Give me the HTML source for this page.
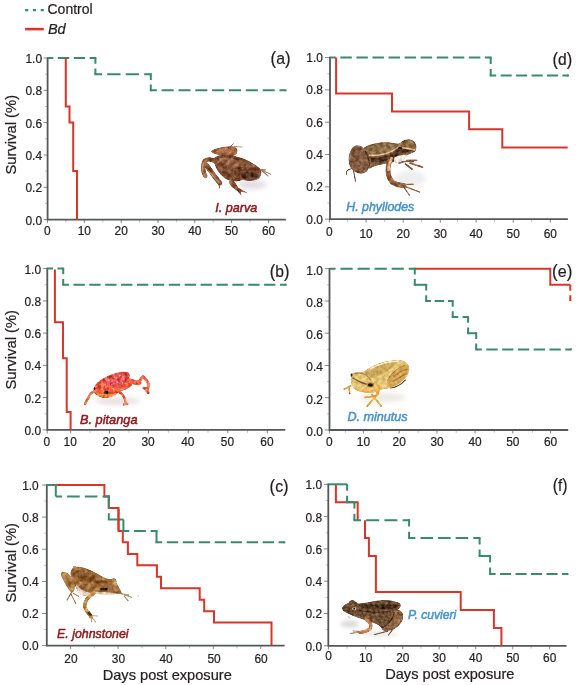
<!DOCTYPE html>
<html lang="en"><head><meta charset="utf-8"><title>Survival curves</title>
<style>html,body{margin:0;padding:0;background:#fff}svg{display:block}text{font-family:"Liberation Sans",Arial,Helvetica,sans-serif}</style>
</head><body>
<svg width="578" height="685" viewBox="0 0 578 685">
<rect width="578" height="685" fill="#fff"/>
<defs><filter id="b1" x="-20%" y="-20%" width="140%" height="140%"><feGaussianBlur stdDeviation="0.7"/></filter><filter id="b2" x="-30%" y="-30%" width="160%" height="160%"><feGaussianBlur stdDeviation="2.2"/></filter></defs>
<defs>
<filter id="fs" x="-40%" y="-40%" width="180%" height="180%"><feGaussianBlur stdDeviation="18"/></filter>
<filter id="tx" x="-10%" y="-10%" width="120%" height="120%" color-interpolation-filters="sRGB">
<feTurbulence type="fractalNoise" baseFrequency="0.028" numOctaves="3" seed="11" result="n"/>
<feColorMatrix in="n" type="matrix" values="1.5 0 0 0 -0.25  1.5 0 0 0 -0.25  1.5 0 0 0 -0.25  0 0 0 0 1" result="g"/>
<feComposite in="SourceGraphic" in2="g" operator="arithmetic" k1="0" k2="1" k3="0.38" k4="-0.19" result="mod"/>
<feComposite in="mod" in2="SourceGraphic" operator="in" result="clip"/>
<feGaussianBlur in="clip" stdDeviation="3.2"/>
</filter>
<filter id="tx2" x="-10%" y="-10%" width="120%" height="120%" color-interpolation-filters="sRGB">
<feTurbulence type="fractalNoise" baseFrequency="0.035" numOctaves="3" seed="5" result="n"/>
<feColorMatrix in="n" type="matrix" values="1.5 0 0 0 -0.25  1.5 0 0 0 -0.25  1.5 0 0 0 -0.25  0 0 0 0 1" result="g"/>
<feComposite in="SourceGraphic" in2="g" operator="arithmetic" k1="0" k2="1" k3="0.45" k4="-0.17" result="mod"/>
<feComposite in="mod" in2="SourceGraphic" operator="in" result="clip"/>
<feGaussianBlur in="clip" stdDeviation="3.2"/>
</filter>
<filter id="tx3" x="-10%" y="-10%" width="120%" height="120%" color-interpolation-filters="sRGB">
<feTurbulence type="fractalNoise" baseFrequency="0.04" numOctaves="2" seed="9" result="n"/>
<feColorMatrix in="n" type="matrix" values="1.5 0 0 0 -0.25  1.5 0 0 0 -0.25  1.5 0 0 0 -0.25  0 0 0 0 1" result="g"/>
<feComposite in="SourceGraphic" in2="g" operator="arithmetic" k1="0" k2="1" k3="0.2" k4="-0.085" result="mod"/>
<feComposite in="mod" in2="SourceGraphic" operator="in" result="clip"/>
<feGaussianBlur in="clip" stdDeviation="3.2"/>
</filter>
<filter id="tx4" x="-10%" y="-10%" width="120%" height="120%" color-interpolation-filters="sRGB">
<feTurbulence type="fractalNoise" baseFrequency="0.04" numOctaves="3" seed="21" result="n"/>
<feColorMatrix in="n" type="matrix" values="1.5 0 0 0 -0.25  1.5 0 0 0 -0.25  1.5 0 0 0 -0.25  0 0 0 0 1" result="g"/>
<feComposite in="SourceGraphic" in2="g" operator="arithmetic" k1="0" k2="1" k3="0.32" k4="-0.15" result="mod"/>
<feComposite in="mod" in2="SourceGraphic" operator="in" result="clip"/>
<feGaussianBlur in="clip" stdDeviation="3"/>
</filter>
</defs>
<!-- frog a : I. parva  (zoom origin 198,138 scale 7.41) -->
<g transform="translate(198,138) scale(0.13495)">
<ellipse cx="400" cy="345" rx="110" ry="32" fill="#e2dae2" filter="url(#fs)"/>
<g filter="url(#tx)">
<path d="M240,62 L262,42 M268,64 L328,67" stroke="#9a6848" stroke-width="7" fill="none" stroke-linecap="round"/>
<path d="M440,228 C470,236 505,250 538,268 M470,240 L520,282 M455,232 L500,236" stroke="#b88a6a" stroke-width="9" fill="none" stroke-linecap="round"/>
<path d="M95,100 C110,80 180,65 240,62 C272,60 296,75 292,100 C290,130 260,140 200,132 C160,128 110,122 95,100Z" fill="#a86c46"/>
<path d="M115,150 C150,118 230,118 300,140 C350,152 410,185 446,214 C476,236 478,270 452,300 C420,322 380,322 330,312 C290,330 240,322 200,300 C160,270 120,220 115,150Z" fill="#7c4c32"/>
<path d="M150,150 C220,135 320,160 420,215 C380,225 300,210 240,215 C190,205 150,180 150,150Z" fill="#8f5e40"/>
<path d="M330,248 C380,244 430,260 462,280 C440,312 380,318 340,304 C320,290 316,262 330,248Z" fill="#4f2e1e"/>
<path d="M140,182 C105,156 70,152 50,170 C32,200 34,250 54,280" stroke="#96603f" stroke-width="34" fill="none" stroke-linecap="round"/>
<path d="M62,200 C95,245 130,296 162,334" stroke="#8a5436" stroke-width="36" fill="none" stroke-linecap="round"/>
<path d="M44,180 C30,210 32,250 48,276 M70,232 C95,262 125,300 150,326" stroke="#c08e6c" stroke-width="8" fill="none" stroke-linecap="round"/>
<path d="M155,342 L160,372" stroke="#6b3f2a" stroke-width="7" fill="none" stroke-linecap="round"/>
<path d="M228,318 C250,306 272,318 282,340 L300,368 L372,410 L318,398 L322,428 L290,392 C262,372 226,346 228,318Z" fill="#8c5436"/>
</g></g>
<!-- frog d : H. phyllodes (zoom origin 340,132 scale 6.422) -->
<g transform="translate(340,132) scale(0.15571)">
<ellipse cx="450" cy="300" rx="100" ry="55" fill="#eeeeee" filter="url(#fs)"/>
<g filter="url(#tx4)">
<path d="M72,236 C50,240 36,252 42,272 M86,246 L100,316" stroke="#6a4630" stroke-width="8" fill="none" stroke-linecap="round"/>
<path d="M380,200 C410,186 440,184 470,190 M430,182 L492,182 M450,200 L530,226 M420,206 L462,238" stroke="#8a5a3a" stroke-width="12" fill="none" stroke-linecap="round"/>
<path d="M140,110 C185,74 250,62 310,66 C340,68 365,80 385,70 C405,52 440,38 468,54 C494,72 498,104 482,126 C465,140 430,146 405,162 C380,186 330,200 290,206 C250,212 215,220 190,236 C165,220 140,170 140,110Z" fill="#7a5636"/>
<path d="M160,112 C200,78 260,70 310,72 C340,74 362,86 386,76 C410,58 440,48 464,60 C480,74 486,92 480,108 C450,104 410,92 372,96 C330,128 260,152 190,146 C175,140 164,128 160,112Z" fill="#8c6c44"/>
<path d="M350,160 C380,150 410,146 430,146 C420,176 390,192 345,200Z" fill="#f3ece4"/>
<path d="M72,112 C92,74 140,78 162,120 C188,160 202,222 172,254 C140,280 95,268 68,230 C48,190 52,142 72,112Z" fill="#80593f"/>
<path d="M162,120 C178,150 190,185 188,218" stroke="#4a3222" stroke-width="7" fill="none"/>
<path d="M195,166 C260,172 330,150 372,118 C410,108 450,112 478,108 C450,130 410,134 384,142 C340,176 260,200 204,194Z" fill="#452a1a"/>
<path d="M185,150 C260,158 330,132 370,100 C410,96 450,110 484,116" stroke="#e0bc94" stroke-width="10" fill="none"/>
<ellipse cx="386" cy="105" rx="15" ry="8" fill="#20130c"/>
<path d="M318,186 C304,232 298,282 338,324 C360,338 390,344 410,344" stroke="#8e5c3c" stroke-width="32" fill="none" stroke-linecap="round"/>
<path d="M332,168 C320,190 314,215 312,242" stroke="#dcb48c" stroke-width="17" fill="none" stroke-linecap="round"/>
<path d="M400,338 L470,336 M418,350 L512,386 M410,354 L446,406" stroke="#9a6a48" stroke-width="9" fill="none" stroke-linecap="round"/>
</g></g>
<!-- frog b : B. pitanga (zoom origin 78,364 scale 7.41) -->
<g transform="translate(78,364) scale(0.13495)">
<ellipse cx="290" cy="275" rx="170" ry="28" fill="#e9dfdf" filter="url(#fs)"/>
<g filter="url(#tx2)">
<path d="M370,120 C410,134 436,142 452,138" stroke="#dc4a34" stroke-width="36" fill="none" stroke-linecap="round"/>
<path d="M452,136 C462,118 470,100 482,92 C500,110 520,136 526,152 C522,170 514,186 508,200 M508,186 L488,178 M512,192 L520,214" stroke="#e65a3a" stroke-width="21" fill="none" stroke-linecap="round" stroke-linejoin="round"/>
<path d="M116,186 C120,150 160,120 200,100 C250,70 320,50 365,60 C386,70 388,90 378,106 C402,116 412,140 398,160 C372,188 332,198 302,208 C272,240 222,258 180,248 C138,236 110,216 116,186Z" fill="#df4c30"/>
<path d="M175,128 C230,84 310,58 362,66 C384,92 372,134 340,154 C296,178 226,178 175,128Z" fill="#d24456" opacity="0.62"/>
<g fill="#f6b8a8" opacity="0.75"><circle cx="230" cy="120" r="7"/><circle cx="270" cy="100" r="6"/><circle cx="310" cy="86" r="7"/><circle cx="340" cy="110" r="6"/><circle cx="290" cy="135" r="7"/><circle cx="250" cy="150" r="6"/><circle cx="200" cy="150" r="6"/><circle cx="330" cy="140" r="6"/><circle cx="180" cy="185" r="6"/><circle cx="260" cy="185" r="6"/></g>
<path d="M128,210 C180,228 240,234 294,212 C268,250 200,258 156,242Z" fill="#f68632"/>
<path d="M134,198 C108,204 90,218 80,244 L52,296" stroke="#f06c3a" stroke-width="18" fill="none" stroke-linecap="round"/>
<path d="M308,210 C336,226 350,252 354,292 M340,300 L366,296" stroke="#ea5c34" stroke-width="17" fill="none" stroke-linecap="round"/>
<ellipse cx="208" cy="212" rx="19" ry="12" fill="#120c0c"/>
<ellipse cx="122" cy="181" rx="6" ry="11" fill="#120c0c"/>
</g></g>
<!-- frog e : D. minutus (zoom origin 338,354 scale 7.41) -->
<g transform="translate(338,354) scale(0.13495)">
<ellipse cx="330" cy="322" rx="170" ry="30" fill="#ebe7df" filter="url(#fs)"/>
<g filter="url(#tx3)">
<path d="M96,236 L46,260 M82,250 L86,294" stroke="#e7a440" stroke-width="13" fill="none" stroke-linecap="round"/>
<path d="M252,300 L320,386 M292,300 L216,386 M200,322 L270,310" stroke="#e8aa3e" stroke-width="14" fill="none" stroke-linecap="round"/>
<path d="M386,252 C424,250 466,230 502,190" stroke="#5e4022" stroke-width="10" fill="none"/>
<path d="M95,160 C100,138 130,128 180,136 C200,126 214,110 240,100 C270,84 280,78 300,70 C360,48 440,40 470,46 C506,56 530,80 530,112 C526,160 490,200 460,216 C420,244 370,258 340,260 C300,272 270,288 250,290 C200,292 150,280 120,260 C98,240 92,200 95,160Z" fill="#e0c072"/>
<path d="M200,140 C250,100 340,66 440,56 C420,100 340,150 262,180 C226,174 208,160 200,140Z" fill="#c6a456"/>
<path d="M236,112 C290,78 370,54 452,52" stroke="#f4e4b4" stroke-width="12" fill="none"/>
<path d="M370,190 C400,130 470,82 520,86 C536,120 506,180 440,230 C410,246 380,246 366,236 C360,222 362,206 370,190Z" fill="#d2a656"/>
<path d="M366,200 C392,140 450,96 500,84" stroke="#a87c38" stroke-width="7" fill="none"/>
<path d="M410,172 C440,142 480,120 514,114 M400,207 C440,187 480,157 512,142" stroke="#a87a36" stroke-width="10" fill="none"/>
<path d="M108,176 C150,204 190,220 222,228" stroke="#7c5c2a" stroke-width="10" fill="none"/>
<path d="M112,150 C140,138 170,140 200,152 C216,160 232,176 244,196" stroke="#a88644" stroke-width="8" fill="none"/>
<path d="M120,258 C180,282 250,276 300,250 C290,290 180,302 120,258Z" fill="#eeaa40"/>
<path d="M300,240 C300,262 296,284 290,300" stroke="#eca63c" stroke-width="22" fill="none" stroke-linecap="round"/>
<ellipse cx="240" cy="228" rx="28" ry="19" fill="#a88040"/>
<ellipse cx="240" cy="229" rx="18" ry="12" fill="#1c1612"/>
<ellipse cx="100" cy="156" rx="8" ry="13" fill="#1c1612"/>
<circle cx="86" cy="291" r="6" fill="#d0503a"/>
</g></g>
<!-- frog c : E. johnstonei (zoom origin 56,560 scale 6.881) -->
<g transform="translate(56,560) scale(0.14533)">
<g filter="url(#tx)">
<path d="M106,224 L76,276 M102,230 L136,300 M120,230 L156,250" stroke="#a87848" stroke-width="8" fill="none" stroke-linecap="round"/>
<path d="M440,230 L520,256 M470,250 L496,280 M452,232 L500,240" stroke="#c8a478" stroke-width="8" fill="none" stroke-linecap="round"/>
<path d="M40,85 C70,72 100,100 125,150 C136,200 124,224 108,226 C80,200 55,150 36,110 C32,96 34,90 40,85Z" fill="#b08048"/>
<path d="M115,55 C140,38 190,48 250,75 C300,100 340,130 380,132 C400,118 420,130 416,156 C430,180 444,206 452,226 C420,240 370,236 340,230 C300,216 280,226 260,236 C230,254 190,246 165,232 C140,200 120,160 100,100 C98,80 104,64 115,55Z" fill="#9a6a3a"/>
<path d="M140,70 C200,70 270,100 340,150 C300,160 230,150 190,160 C160,150 140,110 140,70Z" fill="#865628"/>
<path d="M138,165 C168,212 230,234 272,224 C250,256 190,252 160,234 C145,215 138,190 138,165Z" fill="#e6cfc0"/>
<path d="M262,222 C310,212 370,232 440,226 C400,240 330,238 272,234Z" fill="#ead8b4"/>
<circle cx="400" cy="150" r="17" fill="#ae8046"/>
<path d="M262,228 C226,248 194,282 198,322 C206,350 226,370 240,390" stroke="#c08a48" stroke-width="24" fill="none" stroke-linecap="round"/>
<path d="M224,356 L242,384" stroke="#52341a" stroke-width="18" fill="none"/>
<path d="M240,388 L246,424 M246,392 L272,426 M250,384 L286,386" stroke="#b88a58" stroke-width="7" fill="none" stroke-linecap="round"/>
<ellipse cx="330" cy="201" rx="26" ry="10" fill="#36261a"/>
<circle cx="565" cy="247" r="5" fill="#c6a686"/>
<circle cx="128" cy="50" r="12" fill="#a87a46"/>
</g></g>
<!-- frog f : P. cuvieri (zoom origin 338,594 scale 8.028) -->
<g transform="translate(338,594) scale(0.12457)">
<ellipse cx="95" cy="240" rx="75" ry="30" fill="#dadada" filter="url(#fs)"/>
<ellipse cx="330" cy="322" rx="150" ry="16" fill="#e6e2de" filter="url(#fs)"/>
<g filter="url(#tx4)">
<path d="M30,115 C40,90 70,74 86,70 C92,48 120,40 136,56 C150,66 160,76 170,76 C230,70 290,54 340,50 C400,44 470,56 500,76 C510,96 500,116 480,126 C520,134 530,170 520,200 C506,240 470,276 430,290 C400,296 372,290 352,272 C336,256 310,240 280,230 C240,216 180,200 120,176 C80,160 40,144 30,115Z" fill="#6e4e32"/>
<path d="M150,78 C240,96 350,70 494,92 C470,122 380,126 300,122 C230,122 176,104 150,78Z" fill="#432c1c"/>
<path d="M170,130 C240,150 330,150 420,140" stroke="#3e2818" stroke-width="10" fill="none"/>
<path d="M470,132 C512,130 530,170 518,208 C500,250 450,284 396,298 C370,300 350,290 348,270 C400,250 440,200 450,160Z" fill="#8a6442"/>
<path d="M452,150 C444,200 404,250 350,272" stroke="#3c2616" stroke-width="9" fill="none"/>
<path d="M400,298 L290,326 M440,284 L404,330" stroke="#7a5234" stroke-width="9" fill="none" stroke-linecap="round"/>
<path d="M76,180 L100,202 L90,178Z" fill="#f2eee8"/>
<path d="M228,208 C268,226 272,262 252,284 C230,300 200,306 176,308" stroke="#c47c4c" stroke-width="28" fill="none" stroke-linecap="round"/>
<path d="M180,306 L100,316 M170,300 L120,296" stroke="#ca8c5e" stroke-width="9" fill="none" stroke-linecap="round"/>
<path d="M40,128 C70,140 100,140 128,136" stroke="#3c2616" stroke-width="7" fill="none"/>
<ellipse cx="130" cy="118" rx="17" ry="11" fill="#e0d0b6"/>
<ellipse cx="131" cy="119" rx="9" ry="7" fill="#1c120a"/>
</g></g>

<path d="M25.1,10.1 H43.8" stroke="#3b8b6b" stroke-width="2.2" stroke-dasharray="3.1 4.7"/>
<path d="M25.1,29.1 H43.8" stroke="#d8352b" stroke-width="2.6"/>
<text x="47.5" y="14.3" font-size="14.4" fill="#231f20" textLength="45.1" lengthAdjust="spacingAndGlyphs" stroke="#231f20" stroke-width="0.22">Control</text>
<text x="47.9" y="33.5" font-size="14.4" fill="#231f20" textLength="17.8" lengthAdjust="spacingAndGlyphs" font-style="italic" stroke="#231f20" stroke-width="0.22">Bd</text>
<path d="M47.6,57.2 V219.6 H285.9" fill="none" stroke="#55575a" stroke-width="1.8"/>
<path d="M43.6,219.6 H47.6" stroke="#55575a" stroke-width="1" opacity="0.7"/>
<text x="42.0" y="224.5" font-size="11.9" fill="#231f20" text-anchor="end" stroke="#231f20" stroke-width="0.22">0.0</text>
<path d="M45.0,203.4 H47.6" stroke="#55575a" stroke-width="0.9" opacity="0.4"/>
<path d="M43.6,187.3 H47.6" stroke="#55575a" stroke-width="1" opacity="0.7"/>
<text x="42.0" y="192.2" font-size="11.9" fill="#231f20" text-anchor="end" stroke="#231f20" stroke-width="0.22">0.2</text>
<path d="M45.0,171.1 H47.6" stroke="#55575a" stroke-width="0.9" opacity="0.4"/>
<path d="M43.6,155.0 H47.6" stroke="#55575a" stroke-width="1" opacity="0.7"/>
<text x="42.0" y="159.9" font-size="11.9" fill="#231f20" text-anchor="end" stroke="#231f20" stroke-width="0.22">0.4</text>
<path d="M45.0,138.8 H47.6" stroke="#55575a" stroke-width="0.9" opacity="0.4"/>
<path d="M43.6,122.6 H47.6" stroke="#55575a" stroke-width="1" opacity="0.7"/>
<text x="42.0" y="127.6" font-size="11.9" fill="#231f20" text-anchor="end" stroke="#231f20" stroke-width="0.22">0.6</text>
<path d="M45.0,106.5 H47.6" stroke="#55575a" stroke-width="0.9" opacity="0.4"/>
<path d="M43.6,90.3 H47.6" stroke="#55575a" stroke-width="1" opacity="0.7"/>
<text x="42.0" y="95.3" font-size="11.9" fill="#231f20" text-anchor="end" stroke="#231f20" stroke-width="0.22">0.8</text>
<path d="M45.0,74.2 H47.6" stroke="#55575a" stroke-width="0.9" opacity="0.4"/>
<path d="M43.6,58.0 H47.6" stroke="#55575a" stroke-width="1" opacity="0.7"/>
<text x="42.0" y="63.0" font-size="11.9" fill="#231f20" text-anchor="end" stroke="#231f20" stroke-width="0.22">1.0</text>
<path d="M47.4,219.6 V223.2" stroke="#55575a" stroke-width="1" opacity="0.7"/>
<path d="M84.3,219.6 V223.2" stroke="#55575a" stroke-width="1" opacity="0.7"/>
<path d="M121.2,219.6 V223.2" stroke="#55575a" stroke-width="1" opacity="0.7"/>
<path d="M158.0,219.6 V223.2" stroke="#55575a" stroke-width="1" opacity="0.7"/>
<path d="M194.8,219.6 V223.2" stroke="#55575a" stroke-width="1" opacity="0.7"/>
<path d="M231.6,219.6 V223.2" stroke="#55575a" stroke-width="1" opacity="0.7"/>
<path d="M268.6,219.6 V223.2" stroke="#55575a" stroke-width="1" opacity="0.7"/>
<path d="M65.8,219.6 V222.4" stroke="#55575a" stroke-width="0.9" opacity="0.4"/>
<path d="M102.8,219.6 V222.4" stroke="#55575a" stroke-width="0.9" opacity="0.4"/>
<path d="M139.6,219.6 V222.4" stroke="#55575a" stroke-width="0.9" opacity="0.4"/>
<path d="M176.4,219.6 V222.4" stroke="#55575a" stroke-width="0.9" opacity="0.4"/>
<path d="M213.2,219.6 V222.4" stroke="#55575a" stroke-width="0.9" opacity="0.4"/>
<path d="M250.1,219.6 V222.4" stroke="#55575a" stroke-width="0.9" opacity="0.4"/>
<text x="47.4" y="235.2" font-size="11.9" fill="#231f20" text-anchor="middle" stroke="#231f20" stroke-width="0.22">0</text>
<text x="84.3" y="235.2" font-size="11.9" fill="#231f20" text-anchor="middle" stroke="#231f20" stroke-width="0.22">10</text>
<text x="121.2" y="235.2" font-size="11.9" fill="#231f20" text-anchor="middle" stroke="#231f20" stroke-width="0.22">20</text>
<text x="158.0" y="235.2" font-size="11.9" fill="#231f20" text-anchor="middle" stroke="#231f20" stroke-width="0.22">30</text>
<text x="194.8" y="235.2" font-size="11.9" fill="#231f20" text-anchor="middle" stroke="#231f20" stroke-width="0.22">40</text>
<text x="231.6" y="235.2" font-size="11.9" fill="#231f20" text-anchor="middle" stroke="#231f20" stroke-width="0.22">50</text>
<text x="268.6" y="235.2" font-size="11.9" fill="#231f20" text-anchor="middle" stroke="#231f20" stroke-width="0.22">60</text>
<g fill="none" stroke="#3b8b6b" stroke-width="2.0" stroke-linecap="butt"><path d="M47.6,58.0 L95.4,58.0" stroke-dasharray="11.39 4.54" stroke-dashoffset="5.70"/><path d="M95.4,58.0 L95.4,74.2" stroke-dasharray="11.55 4.61" stroke-dashoffset="5.78"/><path d="M95.4,74.2 L150.8,74.2" stroke-dasharray="13.20 5.26" stroke-dashoffset="6.60"/><path d="M150.8,74.2 L150.8,90.3" stroke-dasharray="11.55 4.61" stroke-dashoffset="5.78"/><path d="M150.8,90.3 L285.5,90.3" stroke-dasharray="12.04 4.80" stroke-dashoffset="6.02"/></g>
<rect x="94.40" y="57.00" width="2.0" height="2.0" fill="#3b8b6b"/>
<rect x="94.40" y="73.16" width="2.0" height="2.0" fill="#3b8b6b"/>
<rect x="149.78" y="73.16" width="2.0" height="2.0" fill="#3b8b6b"/>
<rect x="149.78" y="89.32" width="2.0" height="2.0" fill="#3b8b6b"/>
<rect x="284.50" y="89.32" width="2.0" height="2.0" fill="#3b8b6b"/>
<path d="M65.8,58.0 L65.8,106.5 L69.5,106.5 L69.5,122.6 L73.2,122.6 L73.2,171.1 L77.0,171.1 L77.0,219.6" fill="none" stroke="#d8352b" stroke-width="2.0" stroke-linejoin="miter"/>
<text x="270.6" y="63.9" fill="#231f20" stroke="#231f20" stroke-width="0.22" textLength="20.0" lengthAdjust="spacingAndGlyphs"><tspan font-size="18.2">(</tspan><tspan font-size="17.2">a</tspan><tspan font-size="18.2">)</tspan></text>
<text x="15.9" y="174.5" font-size="14.6" fill="#231f20" textLength="79.6" lengthAdjust="spacingAndGlyphs" transform="rotate(-90 15.9 174.5)" stroke="#231f20" stroke-width="0.22">Survival (%)</text>
<text x="215.3" y="212.2" font-size="13.2" fill="#8b1c1f" textLength="41.9" lengthAdjust="spacingAndGlyphs" font-style="italic" stroke="#8b1c1f" stroke-width="0.55" stroke-linejoin="round">I. parva</text>
<path d="M47.3,267.8 V429.9 H285.3" fill="none" stroke="#55575a" stroke-width="1.8"/>
<path d="M42.8,429.9 H47.3" stroke="#55575a" stroke-width="1" opacity="0.7"/>
<text x="41.0" y="434.9" font-size="11.9" fill="#231f20" text-anchor="end" stroke="#231f20" stroke-width="0.22">0.0</text>
<path d="M44.7,413.8 H47.3" stroke="#55575a" stroke-width="0.9" opacity="0.4"/>
<path d="M42.8,397.6 H47.3" stroke="#55575a" stroke-width="1" opacity="0.7"/>
<text x="41.0" y="402.7" font-size="11.9" fill="#231f20" text-anchor="end" stroke="#231f20" stroke-width="0.22">0.2</text>
<path d="M44.7,381.5 H47.3" stroke="#55575a" stroke-width="0.9" opacity="0.4"/>
<path d="M42.8,365.4 H47.3" stroke="#55575a" stroke-width="1" opacity="0.7"/>
<text x="41.0" y="370.4" font-size="11.9" fill="#231f20" text-anchor="end" stroke="#231f20" stroke-width="0.22">0.4</text>
<path d="M44.7,349.2 H47.3" stroke="#55575a" stroke-width="0.9" opacity="0.4"/>
<path d="M42.8,333.1 H47.3" stroke="#55575a" stroke-width="1" opacity="0.7"/>
<text x="41.0" y="338.2" font-size="11.9" fill="#231f20" text-anchor="end" stroke="#231f20" stroke-width="0.22">0.6</text>
<path d="M44.7,317.0 H47.3" stroke="#55575a" stroke-width="0.9" opacity="0.4"/>
<path d="M42.8,300.9 H47.3" stroke="#55575a" stroke-width="1" opacity="0.7"/>
<text x="41.0" y="305.9" font-size="11.9" fill="#231f20" text-anchor="end" stroke="#231f20" stroke-width="0.22">0.8</text>
<path d="M44.7,284.7 H47.3" stroke="#55575a" stroke-width="0.9" opacity="0.4"/>
<path d="M42.8,268.6 H47.3" stroke="#55575a" stroke-width="1" opacity="0.7"/>
<text x="41.0" y="273.7" font-size="11.9" fill="#231f20" text-anchor="end" stroke="#231f20" stroke-width="0.22">1.0</text>
<path d="M47.2,429.9 V433.5" stroke="#55575a" stroke-width="1" opacity="0.7"/>
<path d="M70.6,429.9 V433.5" stroke="#55575a" stroke-width="1" opacity="0.7"/>
<path d="M109.5,429.9 V433.5" stroke="#55575a" stroke-width="1" opacity="0.7"/>
<path d="M148.5,429.9 V433.5" stroke="#55575a" stroke-width="1" opacity="0.7"/>
<path d="M188.2,429.9 V433.5" stroke="#55575a" stroke-width="1" opacity="0.7"/>
<path d="M227.8,429.9 V433.5" stroke="#55575a" stroke-width="1" opacity="0.7"/>
<path d="M267.3,429.9 V433.5" stroke="#55575a" stroke-width="1" opacity="0.7"/>
<path d="M90.0,429.9 V432.7" stroke="#55575a" stroke-width="0.9" opacity="0.4"/>
<path d="M129.0,429.9 V432.7" stroke="#55575a" stroke-width="0.9" opacity="0.4"/>
<path d="M168.3,429.9 V432.7" stroke="#55575a" stroke-width="0.9" opacity="0.4"/>
<path d="M208.0,429.9 V432.7" stroke="#55575a" stroke-width="0.9" opacity="0.4"/>
<path d="M247.6,429.9 V432.7" stroke="#55575a" stroke-width="0.9" opacity="0.4"/>
<text x="46.8" y="446.4" font-size="11.9" fill="#231f20" text-anchor="middle" stroke="#231f20" stroke-width="0.22">0</text>
<text x="70.2" y="446.4" font-size="11.9" fill="#231f20" text-anchor="middle" stroke="#231f20" stroke-width="0.22">10</text>
<text x="109.1" y="446.4" font-size="11.9" fill="#231f20" text-anchor="middle" stroke="#231f20" stroke-width="0.22">20</text>
<text x="148.1" y="446.4" font-size="11.9" fill="#231f20" text-anchor="middle" stroke="#231f20" stroke-width="0.22">30</text>
<text x="187.8" y="446.4" font-size="11.9" fill="#231f20" text-anchor="middle" stroke="#231f20" stroke-width="0.22">40</text>
<text x="227.4" y="446.4" font-size="11.9" fill="#231f20" text-anchor="middle" stroke="#231f20" stroke-width="0.22">50</text>
<text x="266.9" y="446.4" font-size="11.9" fill="#231f20" text-anchor="middle" stroke="#231f20" stroke-width="0.22">60</text>
<g fill="none" stroke="#3b8b6b" stroke-width="2.0" stroke-linecap="butt"><path d="M47.3,268.6 L63.2,268.6" stroke-dasharray="11.37 4.53" stroke-dashoffset="5.68"/><path d="M63.2,268.6 L63.2,284.7" stroke-dasharray="11.53 4.60" stroke-dashoffset="5.77"/><path d="M63.2,284.7 L285.7,284.7" stroke-dasharray="11.36 4.53" stroke-dashoffset="5.68"/></g>
<rect x="62.20" y="267.60" width="2.0" height="2.0" fill="#3b8b6b"/>
<rect x="62.20" y="283.73" width="2.0" height="2.0" fill="#3b8b6b"/>
<rect x="284.70" y="283.73" width="2.0" height="2.0" fill="#3b8b6b"/>
<path d="M54.9,269.6 L54.9,322.3 L63.0,322.3 L63.0,358.3 L66.7,358.3 L66.7,412.0 L70.6,412.0 L70.6,429.9" fill="none" stroke="#d8352b" stroke-width="2.0" stroke-linejoin="miter"/>
<text x="269.7" y="276.5" fill="#231f20" stroke="#231f20" stroke-width="0.22" textLength="19.7" lengthAdjust="spacingAndGlyphs"><tspan font-size="18.2">(</tspan><tspan font-size="17.2">b</tspan><tspan font-size="18.2">)</tspan></text>
<text x="16.4" y="389.6" font-size="14.6" fill="#231f20" textLength="79.6" lengthAdjust="spacingAndGlyphs" transform="rotate(-90 16.4 389.6)" stroke="#231f20" stroke-width="0.22">Survival (%)</text>
<text x="80.0" y="423.6" font-size="13.2" fill="#8b1c1f" textLength="57.5" lengthAdjust="spacingAndGlyphs" font-style="italic" stroke="#8b1c1f" stroke-width="0.55" stroke-linejoin="round">B. pitanga</text>
<path d="M46.8,484.2 V645.6 H284.6" fill="none" stroke="#55575a" stroke-width="1.8"/>
<path d="M42.1,645.6 H46.8" stroke="#55575a" stroke-width="1" opacity="0.7"/>
<text x="38.7" y="650.4" font-size="11.9" fill="#231f20" text-anchor="end" stroke="#231f20" stroke-width="0.22">0.0</text>
<path d="M44.2,629.5 H46.8" stroke="#55575a" stroke-width="0.9" opacity="0.4"/>
<path d="M42.1,613.5 H46.8" stroke="#55575a" stroke-width="1" opacity="0.7"/>
<text x="38.7" y="618.2" font-size="11.9" fill="#231f20" text-anchor="end" stroke="#231f20" stroke-width="0.22">0.2</text>
<path d="M44.2,597.4 H46.8" stroke="#55575a" stroke-width="0.9" opacity="0.4"/>
<path d="M42.1,581.4 H46.8" stroke="#55575a" stroke-width="1" opacity="0.7"/>
<text x="38.7" y="586.1" font-size="11.9" fill="#231f20" text-anchor="end" stroke="#231f20" stroke-width="0.22">0.4</text>
<path d="M44.2,565.3 H46.8" stroke="#55575a" stroke-width="0.9" opacity="0.4"/>
<path d="M42.1,549.2 H46.8" stroke="#55575a" stroke-width="1" opacity="0.7"/>
<text x="38.7" y="554.0" font-size="11.9" fill="#231f20" text-anchor="end" stroke="#231f20" stroke-width="0.22">0.6</text>
<path d="M44.2,533.2 H46.8" stroke="#55575a" stroke-width="0.9" opacity="0.4"/>
<path d="M42.1,517.1 H46.8" stroke="#55575a" stroke-width="1" opacity="0.7"/>
<text x="38.7" y="521.9" font-size="11.9" fill="#231f20" text-anchor="end" stroke="#231f20" stroke-width="0.22">0.8</text>
<path d="M44.2,501.1 H46.8" stroke="#55575a" stroke-width="0.9" opacity="0.4"/>
<path d="M42.1,485.0 H46.8" stroke="#55575a" stroke-width="1" opacity="0.7"/>
<text x="38.7" y="489.8" font-size="11.9" fill="#231f20" text-anchor="end" stroke="#231f20" stroke-width="0.22">1.0</text>
<path d="M70.6,645.6 V649.2" stroke="#55575a" stroke-width="1" opacity="0.7"/>
<path d="M118.1,645.6 V649.2" stroke="#55575a" stroke-width="1" opacity="0.7"/>
<path d="M165.8,645.6 V649.2" stroke="#55575a" stroke-width="1" opacity="0.7"/>
<path d="M213.3,645.6 V649.2" stroke="#55575a" stroke-width="1" opacity="0.7"/>
<path d="M260.7,645.6 V649.2" stroke="#55575a" stroke-width="1" opacity="0.7"/>
<path d="M94.3,645.6 V648.4" stroke="#55575a" stroke-width="0.9" opacity="0.4"/>
<path d="M142.0,645.6 V648.4" stroke="#55575a" stroke-width="0.9" opacity="0.4"/>
<path d="M189.5,645.6 V648.4" stroke="#55575a" stroke-width="0.9" opacity="0.4"/>
<path d="M237.0,645.6 V648.4" stroke="#55575a" stroke-width="0.9" opacity="0.4"/>
<text x="70.9" y="663.3" font-size="11.9" fill="#231f20" text-anchor="middle" stroke="#231f20" stroke-width="0.22">20</text>
<text x="118.4" y="663.3" font-size="11.9" fill="#231f20" text-anchor="middle" stroke="#231f20" stroke-width="0.22">30</text>
<text x="166.1" y="663.3" font-size="11.9" fill="#231f20" text-anchor="middle" stroke="#231f20" stroke-width="0.22">40</text>
<text x="214.1" y="663.3" font-size="11.9" fill="#231f20" text-anchor="middle" stroke="#231f20" stroke-width="0.22">50</text>
<text x="261.0" y="663.3" font-size="11.9" fill="#231f20" text-anchor="middle" stroke="#231f20" stroke-width="0.22">60</text>
<path d="M55.8,485.0 L104.4,485.0 L104.4,496.4 L108.8,496.4 L108.8,508.0 L118.5,508.0 L118.5,530.9 L122.8,530.9 L122.8,542.3 L127.9,542.3 L127.9,553.9 L137.3,553.9 L137.3,565.3 L156.9,565.3 L156.9,576.7 L161.0,576.7 L161.0,588.3 L199.7,588.3 L199.7,599.7 L204.2,599.7 L204.2,611.2 L214.0,611.2 L214.0,622.6 L271.5,622.6 L271.5,645.6" fill="none" stroke="#d8352b" stroke-width="2.0" stroke-linejoin="miter"/>
<path d="M46.8,485.0 L55.8,485.0 L55.8,496.4" fill="none" stroke="#3b8b6b" stroke-width="2.0" stroke-linejoin="miter"/>
<g fill="none" stroke="#3b8b6b" stroke-width="2.0" stroke-linecap="butt"><path d="M55.8,496.4 L108.8,496.4" stroke-dasharray="12.63 5.04" stroke-dashoffset="6.32"/></g>
<rect x="107.80" y="495.40" width="2.0" height="2.0" fill="#3b8b6b"/>
<path d="M108.8,495.6 L108.8,508.3" fill="none" stroke="#3b8b6b" stroke-width="2.0" stroke-linejoin="miter"/>
<path d="M108.8,513.2 L108.8,519.4 L123.4,519.4" fill="none" stroke="#3b8b6b" stroke-width="2.0" stroke-linejoin="miter"/>
<g fill="none" stroke="#3b8b6b" stroke-width="2.0" stroke-linecap="butt"><path d="M123.4,519.4 L123.4,530.9"/><path d="M123.4,530.9 L156.5,530.9" stroke-dasharray="11.83 4.72" stroke-dashoffset="5.92"/><path d="M156.5,530.9 L156.5,542.3"/><path d="M156.5,542.3 L284.3,542.3" stroke-dasharray="11.42 4.55" stroke-dashoffset="5.71"/></g>
<rect x="122.40" y="529.93" width="2.0" height="2.0" fill="#3b8b6b"/>
<rect x="155.50" y="529.93" width="2.0" height="2.0" fill="#3b8b6b"/>
<rect x="155.50" y="541.33" width="2.0" height="2.0" fill="#3b8b6b"/>
<rect x="283.30" y="541.33" width="2.0" height="2.0" fill="#3b8b6b"/>
<path d="M118.5,509.0 L118.5,529.9" fill="none" stroke="#d8352b" stroke-width="2.0" stroke-linejoin="miter"/>
<text x="269.6" y="491.5" fill="#231f20" stroke="#231f20" stroke-width="0.22" textLength="19.0" lengthAdjust="spacingAndGlyphs"><tspan font-size="18.2">(</tspan><tspan font-size="17.2">c</tspan><tspan font-size="18.2">)</tspan></text>
<text x="16.4" y="602.6" font-size="14.6" fill="#231f20" textLength="79.6" lengthAdjust="spacingAndGlyphs" transform="rotate(-90 16.4 602.6)" stroke="#231f20" stroke-width="0.22">Survival (%)</text>
<text x="57.1" y="637.9" font-size="13.2" fill="#8b1c1f" textLength="71.4" lengthAdjust="spacingAndGlyphs" font-style="italic" stroke="#8b1c1f" stroke-width="0.55" stroke-linejoin="round">E. johnstonei</text>
<text x="102.7" y="679.8" font-size="14.6" fill="#231f20" textLength="129.1" lengthAdjust="spacingAndGlyphs" stroke="#231f20" stroke-width="0.22">Days post exposure</text>
<path d="M330.0,56.8 V219.1 H567.9" fill="none" stroke="#55575a" stroke-width="1.8"/>
<path d="M325.0,219.1 H330.0" stroke="#55575a" stroke-width="1" opacity="0.7"/>
<text x="322.8" y="223.7" font-size="11.9" fill="#231f20" text-anchor="end" stroke="#231f20" stroke-width="0.22">0.0</text>
<path d="M327.4,202.9 H330.0" stroke="#55575a" stroke-width="0.9" opacity="0.4"/>
<path d="M325.0,186.8 H330.0" stroke="#55575a" stroke-width="1" opacity="0.7"/>
<text x="322.8" y="191.3" font-size="11.9" fill="#231f20" text-anchor="end" stroke="#231f20" stroke-width="0.22">0.2</text>
<path d="M327.4,170.6 H330.0" stroke="#55575a" stroke-width="0.9" opacity="0.4"/>
<path d="M325.0,154.5 H330.0" stroke="#55575a" stroke-width="1" opacity="0.7"/>
<text x="322.8" y="159.1" font-size="11.9" fill="#231f20" text-anchor="end" stroke="#231f20" stroke-width="0.22">0.4</text>
<path d="M327.4,138.3 H330.0" stroke="#55575a" stroke-width="0.9" opacity="0.4"/>
<path d="M325.0,122.2 H330.0" stroke="#55575a" stroke-width="1" opacity="0.7"/>
<text x="322.8" y="126.7" font-size="11.9" fill="#231f20" text-anchor="end" stroke="#231f20" stroke-width="0.22">0.6</text>
<path d="M327.4,106.0 H330.0" stroke="#55575a" stroke-width="0.9" opacity="0.4"/>
<path d="M325.0,89.9 H330.0" stroke="#55575a" stroke-width="1" opacity="0.7"/>
<text x="322.8" y="94.4" font-size="11.9" fill="#231f20" text-anchor="end" stroke="#231f20" stroke-width="0.22">0.8</text>
<path d="M327.4,73.7 H330.0" stroke="#55575a" stroke-width="0.9" opacity="0.4"/>
<path d="M325.0,57.6 H330.0" stroke="#55575a" stroke-width="1" opacity="0.7"/>
<text x="322.8" y="62.1" font-size="11.9" fill="#231f20" text-anchor="end" stroke="#231f20" stroke-width="0.22">1.0</text>
<path d="M329.4,219.1 V222.7" stroke="#55575a" stroke-width="1" opacity="0.7"/>
<path d="M366.1,219.1 V222.7" stroke="#55575a" stroke-width="1" opacity="0.7"/>
<path d="M403.2,219.1 V222.7" stroke="#55575a" stroke-width="1" opacity="0.7"/>
<path d="M440.3,219.1 V222.7" stroke="#55575a" stroke-width="1" opacity="0.7"/>
<path d="M476.1,219.1 V222.7" stroke="#55575a" stroke-width="1" opacity="0.7"/>
<path d="M513.2,219.1 V222.7" stroke="#55575a" stroke-width="1" opacity="0.7"/>
<path d="M550.3,219.1 V222.7" stroke="#55575a" stroke-width="1" opacity="0.7"/>
<path d="M347.7,219.1 V221.9" stroke="#55575a" stroke-width="0.9" opacity="0.4"/>
<path d="M384.6,219.1 V221.9" stroke="#55575a" stroke-width="0.9" opacity="0.4"/>
<path d="M421.7,219.1 V221.9" stroke="#55575a" stroke-width="0.9" opacity="0.4"/>
<path d="M457.4,219.1 V221.9" stroke="#55575a" stroke-width="0.9" opacity="0.4"/>
<path d="M494.6,219.1 V221.9" stroke="#55575a" stroke-width="0.9" opacity="0.4"/>
<path d="M531.7,219.1 V221.9" stroke="#55575a" stroke-width="0.9" opacity="0.4"/>
<text x="329.4" y="235.5" font-size="11.9" fill="#231f20" text-anchor="middle" stroke="#231f20" stroke-width="0.22">0</text>
<text x="366.1" y="237.6" font-size="11.9" fill="#231f20" text-anchor="middle" stroke="#231f20" stroke-width="0.22">10</text>
<text x="403.2" y="237.6" font-size="11.9" fill="#231f20" text-anchor="middle" stroke="#231f20" stroke-width="0.22">20</text>
<text x="440.3" y="237.6" font-size="11.9" fill="#231f20" text-anchor="middle" stroke="#231f20" stroke-width="0.22">30</text>
<text x="476.1" y="237.6" font-size="11.9" fill="#231f20" text-anchor="middle" stroke="#231f20" stroke-width="0.22">40</text>
<text x="513.2" y="237.6" font-size="11.9" fill="#231f20" text-anchor="middle" stroke="#231f20" stroke-width="0.22">50</text>
<text x="550.3" y="237.6" font-size="11.9" fill="#231f20" text-anchor="middle" stroke="#231f20" stroke-width="0.22">60</text>
<g fill="none" stroke="#3b8b6b" stroke-width="2.0" stroke-linecap="butt"><path d="M330.0,57.6 L490.7,57.6" stroke-dasharray="11.49 4.58" stroke-dashoffset="5.75"/><path d="M490.7,57.6 L490.7,75.5" stroke-dasharray="12.82 5.11" stroke-dashoffset="6.41"/><path d="M490.7,75.5 L568.0,75.5" stroke-dasharray="11.05 4.41" stroke-dashoffset="5.53"/></g>
<rect x="489.70" y="56.60" width="2.0" height="2.0" fill="#3b8b6b"/>
<rect x="489.70" y="74.53" width="2.0" height="2.0" fill="#3b8b6b"/>
<rect x="567.00" y="74.53" width="2.0" height="2.0" fill="#3b8b6b"/>
<path d="M336.1,57.6 L336.1,93.5 L392.0,93.5 L392.0,111.4 L469.1,111.4 L469.1,129.3 L502.3,129.3 L502.3,147.4 L567.7,147.4 L567.7,147.4" fill="none" stroke="#d8352b" stroke-width="2.0" stroke-linejoin="miter"/>
<text x="552.5" y="64.8" fill="#231f20" stroke="#231f20" stroke-width="0.22" textLength="19.7" lengthAdjust="spacingAndGlyphs"><tspan font-size="18.2">(</tspan><tspan font-size="17.2">d</tspan><tspan font-size="18.2">)</tspan></text>
<text x="346.3" y="211.0" font-size="13.2" fill="#4a94c8" textLength="67.9" lengthAdjust="spacingAndGlyphs" font-style="italic" stroke="#4a94c8" stroke-width="0.55" stroke-linejoin="round">H. phyllodes</text>
<path d="M329.5,267.9 V430.0 H568.2" fill="none" stroke="#55575a" stroke-width="1.8"/>
<path d="M324.7,430.0 H329.5" stroke="#55575a" stroke-width="1" opacity="0.7"/>
<text x="322.8" y="435.9" font-size="11.9" fill="#231f20" text-anchor="end" stroke="#231f20" stroke-width="0.22">0.0</text>
<path d="M326.9,413.9 H329.5" stroke="#55575a" stroke-width="0.9" opacity="0.4"/>
<path d="M324.7,397.7 H329.5" stroke="#55575a" stroke-width="1" opacity="0.7"/>
<text x="322.8" y="403.7" font-size="11.9" fill="#231f20" text-anchor="end" stroke="#231f20" stroke-width="0.22">0.2</text>
<path d="M326.9,381.6 H329.5" stroke="#55575a" stroke-width="0.9" opacity="0.4"/>
<path d="M324.7,365.5 H329.5" stroke="#55575a" stroke-width="1" opacity="0.7"/>
<text x="322.8" y="371.4" font-size="11.9" fill="#231f20" text-anchor="end" stroke="#231f20" stroke-width="0.22">0.4</text>
<path d="M326.9,349.4 H329.5" stroke="#55575a" stroke-width="0.9" opacity="0.4"/>
<path d="M324.7,333.2 H329.5" stroke="#55575a" stroke-width="1" opacity="0.7"/>
<text x="322.8" y="339.2" font-size="11.9" fill="#231f20" text-anchor="end" stroke="#231f20" stroke-width="0.22">0.6</text>
<path d="M326.9,317.1 H329.5" stroke="#55575a" stroke-width="0.9" opacity="0.4"/>
<path d="M324.7,301.0 H329.5" stroke="#55575a" stroke-width="1" opacity="0.7"/>
<text x="322.8" y="306.9" font-size="11.9" fill="#231f20" text-anchor="end" stroke="#231f20" stroke-width="0.22">0.8</text>
<path d="M326.9,284.8 H329.5" stroke="#55575a" stroke-width="0.9" opacity="0.4"/>
<path d="M324.7,268.7 H329.5" stroke="#55575a" stroke-width="1" opacity="0.7"/>
<text x="322.8" y="274.6" font-size="11.9" fill="#231f20" text-anchor="end" stroke="#231f20" stroke-width="0.22">1.0</text>
<path d="M329.4,430.0 V433.6" stroke="#55575a" stroke-width="1" opacity="0.7"/>
<path d="M363.4,430.0 V433.6" stroke="#55575a" stroke-width="1" opacity="0.7"/>
<path d="M399.2,430.0 V433.6" stroke="#55575a" stroke-width="1" opacity="0.7"/>
<path d="M437.0,430.0 V433.6" stroke="#55575a" stroke-width="1" opacity="0.7"/>
<path d="M475.1,430.0 V433.6" stroke="#55575a" stroke-width="1" opacity="0.7"/>
<path d="M512.8,430.0 V433.6" stroke="#55575a" stroke-width="1" opacity="0.7"/>
<path d="M550.6,430.0 V433.6" stroke="#55575a" stroke-width="1" opacity="0.7"/>
<path d="M345.4,430.0 V432.8" stroke="#55575a" stroke-width="0.9" opacity="0.4"/>
<path d="M381.4,430.0 V432.8" stroke="#55575a" stroke-width="0.9" opacity="0.4"/>
<path d="M418.3,430.0 V432.8" stroke="#55575a" stroke-width="0.9" opacity="0.4"/>
<path d="M456.2,430.0 V432.8" stroke="#55575a" stroke-width="0.9" opacity="0.4"/>
<path d="M494.4,430.0 V432.8" stroke="#55575a" stroke-width="0.9" opacity="0.4"/>
<path d="M532.4,430.0 V432.8" stroke="#55575a" stroke-width="0.9" opacity="0.4"/>
<text x="329.4" y="445.9" font-size="11.9" fill="#231f20" text-anchor="middle" stroke="#231f20" stroke-width="0.22">0</text>
<text x="363.4" y="445.9" font-size="11.9" fill="#231f20" text-anchor="middle" stroke="#231f20" stroke-width="0.22">10</text>
<text x="399.2" y="445.9" font-size="11.9" fill="#231f20" text-anchor="middle" stroke="#231f20" stroke-width="0.22">20</text>
<text x="437.0" y="445.9" font-size="11.9" fill="#231f20" text-anchor="middle" stroke="#231f20" stroke-width="0.22">30</text>
<text x="475.1" y="445.9" font-size="11.9" fill="#231f20" text-anchor="middle" stroke="#231f20" stroke-width="0.22">40</text>
<text x="512.8" y="445.9" font-size="11.9" fill="#231f20" text-anchor="middle" stroke="#231f20" stroke-width="0.22">50</text>
<text x="550.6" y="445.9" font-size="11.9" fill="#231f20" text-anchor="middle" stroke="#231f20" stroke-width="0.22">60</text>
<path d="M414.8,268.7 L550.3,268.7 L550.3,284.8 L570.3,284.8 L570.3,284.8" fill="none" stroke="#d8352b" stroke-width="2.0" stroke-linejoin="miter"/>
<path d="M570.3,284.8 L570.3,301.0" fill="none" stroke="#d8352b" stroke-width="2.0" stroke-dasharray="6 4.5" stroke-linejoin="miter"/>
<g fill="none" stroke="#3b8b6b" stroke-width="2.0" stroke-linecap="butt"><path d="M329.5,268.7 L414.8,268.7" stroke-dasharray="12.20 4.86" stroke-dashoffset="6.10"/><path d="M414.8,268.7 L414.8,284.8" stroke-dasharray="11.53 4.60" stroke-dashoffset="5.77"/><path d="M414.8,284.8 L426.2,284.8"/><path d="M426.2,284.8 L426.2,301.0" stroke-dasharray="11.53 4.60" stroke-dashoffset="5.77"/><path d="M426.2,301.0 L452.7,301.0" stroke-dasharray="9.47 3.78" stroke-dashoffset="4.74"/><path d="M452.7,301.0 L452.7,317.1" stroke-dasharray="11.53 4.60" stroke-dashoffset="5.77"/><path d="M452.7,317.1 L468.1,317.1" stroke-dasharray="11.01 4.39" stroke-dashoffset="5.51"/><path d="M468.1,317.1 L468.1,333.2" stroke-dasharray="11.53 4.60" stroke-dashoffset="5.77"/><path d="M468.1,333.2 L476.2,333.2"/><path d="M476.2,333.2 L476.2,349.4" stroke-dasharray="11.53 4.60" stroke-dashoffset="5.77"/><path d="M476.2,349.4 L570.9,349.4" stroke-dasharray="11.29 4.50" stroke-dashoffset="5.64"/></g>
<rect x="413.80" y="267.70" width="2.0" height="2.0" fill="#3b8b6b"/>
<rect x="413.80" y="283.83" width="2.0" height="2.0" fill="#3b8b6b"/>
<rect x="425.20" y="283.83" width="2.0" height="2.0" fill="#3b8b6b"/>
<rect x="425.20" y="299.96" width="2.0" height="2.0" fill="#3b8b6b"/>
<rect x="451.70" y="299.96" width="2.0" height="2.0" fill="#3b8b6b"/>
<rect x="451.70" y="316.09" width="2.0" height="2.0" fill="#3b8b6b"/>
<rect x="467.10" y="316.09" width="2.0" height="2.0" fill="#3b8b6b"/>
<rect x="467.10" y="332.22" width="2.0" height="2.0" fill="#3b8b6b"/>
<rect x="475.20" y="332.22" width="2.0" height="2.0" fill="#3b8b6b"/>
<rect x="475.20" y="348.35" width="2.0" height="2.0" fill="#3b8b6b"/>
<rect x="569.90" y="348.35" width="2.0" height="2.0" fill="#3b8b6b"/>
<rect x="552.2" y="262.5" width="20.5" height="17.5" fill="#fff"/>
<text x="552.0" y="276.7" fill="#231f20" stroke="#231f20" stroke-width="0.22" textLength="20.3" lengthAdjust="spacingAndGlyphs"><tspan font-size="18.2">(</tspan><tspan font-size="17.2">e</tspan><tspan font-size="18.2">)</tspan></text>
<text x="347.4" y="420.6" font-size="13.2" fill="#4a94c8" textLength="60.2" lengthAdjust="spacingAndGlyphs" font-style="italic" stroke="#4a94c8" stroke-width="0.55" stroke-linejoin="round">D. minutus</text>
<path d="M328.3,483.5 V645.8 H566.5" fill="none" stroke="#55575a" stroke-width="1.8"/>
<path d="M323.9,645.8 H328.3" stroke="#55575a" stroke-width="1" opacity="0.7"/>
<text x="322.0" y="650.6" font-size="11.9" fill="#231f20" text-anchor="end" stroke="#231f20" stroke-width="0.22">0.0</text>
<path d="M325.7,629.6 H328.3" stroke="#55575a" stroke-width="0.9" opacity="0.4"/>
<path d="M323.9,613.5 H328.3" stroke="#55575a" stroke-width="1" opacity="0.7"/>
<text x="322.0" y="618.4" font-size="11.9" fill="#231f20" text-anchor="end" stroke="#231f20" stroke-width="0.22">0.2</text>
<path d="M325.7,597.4 H328.3" stroke="#55575a" stroke-width="0.9" opacity="0.4"/>
<path d="M323.9,581.2 H328.3" stroke="#55575a" stroke-width="1" opacity="0.7"/>
<text x="322.0" y="586.0" font-size="11.9" fill="#231f20" text-anchor="end" stroke="#231f20" stroke-width="0.22">0.4</text>
<path d="M325.7,565.0 H328.3" stroke="#55575a" stroke-width="0.9" opacity="0.4"/>
<path d="M323.9,548.9 H328.3" stroke="#55575a" stroke-width="1" opacity="0.7"/>
<text x="322.0" y="553.8" font-size="11.9" fill="#231f20" text-anchor="end" stroke="#231f20" stroke-width="0.22">0.6</text>
<path d="M325.7,532.8 H328.3" stroke="#55575a" stroke-width="0.9" opacity="0.4"/>
<path d="M323.9,516.6 H328.3" stroke="#55575a" stroke-width="1" opacity="0.7"/>
<text x="322.0" y="521.5" font-size="11.9" fill="#231f20" text-anchor="end" stroke="#231f20" stroke-width="0.22">0.8</text>
<path d="M325.7,500.5 H328.3" stroke="#55575a" stroke-width="0.9" opacity="0.4"/>
<path d="M323.9,484.3 H328.3" stroke="#55575a" stroke-width="1" opacity="0.7"/>
<text x="322.0" y="489.2" font-size="11.9" fill="#231f20" text-anchor="end" stroke="#231f20" stroke-width="0.22">1.0</text>
<path d="M328.5,645.8 V649.4" stroke="#55575a" stroke-width="1" opacity="0.7"/>
<path d="M365.7,645.8 V649.4" stroke="#55575a" stroke-width="1" opacity="0.7"/>
<path d="M402.8,645.8 V649.4" stroke="#55575a" stroke-width="1" opacity="0.7"/>
<path d="M439.2,645.8 V649.4" stroke="#55575a" stroke-width="1" opacity="0.7"/>
<path d="M475.7,645.8 V649.4" stroke="#55575a" stroke-width="1" opacity="0.7"/>
<path d="M512.8,645.8 V649.4" stroke="#55575a" stroke-width="1" opacity="0.7"/>
<path d="M549.7,645.8 V649.4" stroke="#55575a" stroke-width="1" opacity="0.7"/>
<path d="M347.1,645.8 V648.6" stroke="#55575a" stroke-width="0.9" opacity="0.4"/>
<path d="M384.2,645.8 V648.6" stroke="#55575a" stroke-width="0.9" opacity="0.4"/>
<path d="M421.0,645.8 V648.6" stroke="#55575a" stroke-width="0.9" opacity="0.4"/>
<path d="M457.4,645.8 V648.6" stroke="#55575a" stroke-width="0.9" opacity="0.4"/>
<path d="M494.2,645.8 V648.6" stroke="#55575a" stroke-width="0.9" opacity="0.4"/>
<path d="M531.2,645.8 V648.6" stroke="#55575a" stroke-width="0.9" opacity="0.4"/>
<text x="328.5" y="660.4" font-size="11.9" fill="#231f20" text-anchor="middle" stroke="#231f20" stroke-width="0.22">0</text>
<text x="365.7" y="662.0" font-size="11.9" fill="#231f20" text-anchor="middle" stroke="#231f20" stroke-width="0.22">10</text>
<text x="402.8" y="662.0" font-size="11.9" fill="#231f20" text-anchor="middle" stroke="#231f20" stroke-width="0.22">20</text>
<text x="439.2" y="662.0" font-size="11.9" fill="#231f20" text-anchor="middle" stroke="#231f20" stroke-width="0.22">30</text>
<text x="475.7" y="662.0" font-size="11.9" fill="#231f20" text-anchor="middle" stroke="#231f20" stroke-width="0.22">40</text>
<text x="512.8" y="662.0" font-size="11.9" fill="#231f20" text-anchor="middle" stroke="#231f20" stroke-width="0.22">50</text>
<text x="549.7" y="662.0" font-size="11.9" fill="#231f20" text-anchor="middle" stroke="#231f20" stroke-width="0.22">60</text>
<path d="M335.9,484.3 L335.9,502.2 L357.7,502.2 L357.7,520.2" fill="none" stroke="#d8352b" stroke-width="2.0" stroke-linejoin="miter"/>
<path d="M365.0,520.2 L365.0,538.1 L368.9,538.1 L368.9,556.0 L375.9,556.0 L375.9,592.0 L460.7,592.0 L460.7,609.9 L493.9,609.9 L493.9,627.9 L501.4,627.9 L501.4,645.8" fill="none" stroke="#d8352b" stroke-width="2.0" stroke-linejoin="miter"/>
<path d="M328.3,484.3 L347.1,484.3" fill="none" stroke="#3b8b6b" stroke-width="2.0" stroke-linejoin="miter"/>
<g fill="none" stroke="#3b8b6b" stroke-width="2.0" stroke-linecap="butt"><path d="M347.1,484.3 L347.1,502.2" stroke-dasharray="12.82 5.11" stroke-dashoffset="6.41"/><path d="M347.1,502.2 L354.4,502.2"/><path d="M354.4,502.2 L354.4,520.2" stroke-dasharray="12.82 5.11" stroke-dashoffset="6.41"/><path d="M354.4,520.2 L409.1,520.2" stroke-dasharray="13.04 5.20" stroke-dashoffset="6.52"/><path d="M409.1,520.2 L409.1,538.1" stroke-dasharray="12.82 5.11" stroke-dashoffset="6.41"/><path d="M409.1,538.1 L479.6,538.1" stroke-dasharray="12.60 5.02" stroke-dashoffset="6.30"/><path d="M479.6,538.1 L479.6,556.0" stroke-dasharray="12.82 5.11" stroke-dashoffset="6.41"/><path d="M479.6,556.0 L490.1,556.0"/><path d="M490.1,556.0 L490.1,574.1" stroke-dasharray="12.93 5.16" stroke-dashoffset="6.47"/><path d="M490.1,574.1 L567.5,574.1" stroke-dasharray="11.07 4.41" stroke-dashoffset="5.53"/></g>
<rect x="346.10" y="501.23" width="2.0" height="2.0" fill="#3b8b6b"/>
<rect x="353.40" y="501.23" width="2.0" height="2.0" fill="#3b8b6b"/>
<rect x="353.40" y="519.15" width="2.0" height="2.0" fill="#3b8b6b"/>
<rect x="408.10" y="519.15" width="2.0" height="2.0" fill="#3b8b6b"/>
<rect x="408.10" y="537.08" width="2.0" height="2.0" fill="#3b8b6b"/>
<rect x="478.60" y="537.08" width="2.0" height="2.0" fill="#3b8b6b"/>
<rect x="478.60" y="555.01" width="2.0" height="2.0" fill="#3b8b6b"/>
<rect x="489.10" y="555.01" width="2.0" height="2.0" fill="#3b8b6b"/>
<rect x="489.10" y="573.09" width="2.0" height="2.0" fill="#3b8b6b"/>
<rect x="566.50" y="573.09" width="2.0" height="2.0" fill="#3b8b6b"/>
<text x="552.8" y="490.8" fill="#231f20" stroke="#231f20" stroke-width="0.22" textLength="14.7" lengthAdjust="spacingAndGlyphs"><tspan font-size="18.2">(</tspan><tspan font-size="17.2">f</tspan><tspan font-size="18.2">)</tspan></text>
<text x="407.9" y="618.8" font-size="13.2" fill="#4a94c8" textLength="48.3" lengthAdjust="spacingAndGlyphs" font-style="italic" stroke="#4a94c8" stroke-width="0.55" stroke-linejoin="round">P. cuvieri</text>
<text x="385.2" y="679.3" font-size="14.6" fill="#231f20" textLength="129.2" lengthAdjust="spacingAndGlyphs" stroke="#231f20" stroke-width="0.22">Days post exposure</text>
</svg></body></html>
